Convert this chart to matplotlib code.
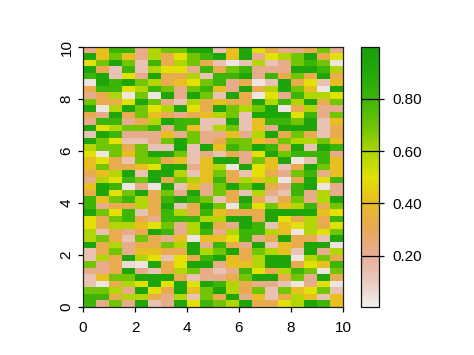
import numpy as np
import matplotlib
matplotlib.use("Agg")
import matplotlib.pyplot as plt
from matplotlib.colors import LinearSegmentedColormap

plt.rcParams['font.family'] = ['Liberation Sans', 'DejaVu Sans']

# cell values in hundredths, top row first
cell_rows = [
 [22,41,80,80,22,59,69,69,93,93,13,41,93,50,32,22,22,32,69,22],
 [93,41,69,41,22,59,32,50,69,80,93,41,93,22,50,59,69,93,32,50],
 [50,69,93,69,13,80,32,59,69,32,13,3,13,59,13,22,69,80,69,3],
 [93,32,13,80,13,59,50,50,22,80,32,69,80,22,22,22,93,93,80,59],
 [80,93,13,50,22,93,32,32,59,13,80,80,93,22,80,32,69,32,93,32],
 [3,93,80,93,69,59,32,41,50,69,80,22,32,3,13,93,32,50,13,41],
 [32,80,80,50,59,80,69,22,69,80,41,22,93,32,59,93,69,41,3,93],
 [22,32,59,3,69,3,93,22,93,69,13,93,32,3,50,22,80,59,59,50],
 [69,32,32,50,93,69,22,13,59,32,41,32,32,93,59,80,59,93,32,69],
 [93,3,59,93,69,50,59,93,50,32,93,69,59,69,93,3,32,59,22,22],
 [32,22,93,32,69,41,32,22,32,41,59,69,13,93,93,93,50,80,22,69],
 [22,80,80,22,32,59,93,80,80,13,13,93,13,41,80,80,69,93,13,41],
 [93,50,59,69,69,80,22,80,41,13,59,69,13,41,22,93,93,93,13,32],
 [13,93,80,22,22,22,41,22,69,22,22,41,22,59,93,32,69,32,13,32],
 [93,69,50,13,13,22,69,93,69,22,32,69,69,41,32,69,59,59,69,41],
 [59,69,69,32,69,13,13,93,13,93,41,80,69,93,80,32,93,13,93,80],
 [50,3,69,41,69,93,93,69,13,22,13,32,22,50,93,69,80,80,80,22],
 [41,50,32,13,69,69,32,41,13,41,93,93,22,69,41,93,3,13,80,41],
 [41,69,32,32,41,50,93,93,22,41,59,3,93,50,41,13,32,93,69,41],
 [32,41,59,93,13,93,93,59,13,41,69,32,13,50,32,22,69,80,22,41],
 [22,59,50,80,69,93,32,69,59,41,80,32,59,41,59,3,32,93,50,80],
 [41,93,80,3,22,3,93,13,41,22,69,93,69,93,32,22,80,93,3,22],
 [32,93,50,69,93,32,69,22,93,22,69,32,13,59,22,13,80,22,59,22],
 [80,41,69,80,59,32,80,93,80,69,13,32,93,32,13,32,69,22,59,93],
 [80,22,32,32,59,32,93,13,32,93,69,3,80,50,69,41,59,80,32,69],
 [93,69,50,80,13,32,80,59,32,80,41,32,32,32,93,93,93,93,41,50],
 [50,32,69,80,32,22,80,80,80,59,59,93,93,32,93,50,32,59,32,80],
 [50,32,59,59,41,50,69,22,59,93,32,22,93,80,13,41,50,59,32,50],
 [59,13,32,22,32,93,80,22,59,80,22,59,80,80,59,41,3,59,50,69],
 [59,69,32,13,69,32,22,41,3,41,41,50,80,22,32,93,32,32,13,93],
 [93,32,59,22,32,32,69,59,93,22,80,32,22,93,13,41,32,93,93,3],
 [13,32,69,22,41,41,32,32,93,59,69,93,32,69,59,41,13,93,22,59],
 [13,59,32,93,59,50,13,50,32,80,93,41,32,59,93,93,3,59,69,32],
 [69,22,32,6,3,93,32,50,93,93,22,41,41,59,93,93,32,50,41,80],
 [22,22,32,93,22,13,32,59,69,22,13,22,80,50,32,59,80,69,3,69],
 [13,41,69,69,93,93,93,32,13,22,22,32,69,93,93,32,69,22,93,32],
 [13,3,32,59,50,93,50,93,50,93,80,59,32,22,22,13,3,22,50,3],
 [69,69,59,22,93,50,32,93,41,69,93,59,32,69,13,69,41,50,69,13],
 [80,80,32,59,59,32,22,59,13,69,32,93,22,41,13,32,59,41,13,41],
 [80,22,69,22,93,13,22,93,50,80,69,59,93,32,32,50,59,93,80,41],
]
x_ticks = [0, 2, 4, 6, 8, 10]
y_ticks = [0, 2, 4, 6, 8, 10]
bar_ticks = [0.20, 0.40, 0.60, 0.80]
value_min = 0.002
value_max = 0.998

cmap = LinearSegmentedColormap.from_list("terrain_like", [
    (0.00, "#F0F0EE"), (0.10, "#E9CABF"), (0.20, "#E7AE94"), (0.30, "#E8A858"),
    (0.40, "#E8BC25"), (0.50, "#E2E005"), (0.60, "#ACD405"), (0.70, "#6EC406"),
    (0.80, "#3DB508"), (0.93, "#1EA60A"), (1.00, "#1A9F0C")], N=255)

W, H = 474, 355
fig = plt.figure(figsize=(W/100, H/100), dpi=100)

def box(x0, y0, x1, y1):
    return [x0/W, 1-y1/H, (x1-x0)/W, (y1-y0)/H]

ax = fig.add_axes(box(83, 47, 343, 307))
grid = np.array(cell_rows) / 100
im = ax.imshow(grid, cmap=cmap, vmin=value_min, vmax=value_max, extent=[0, 10, 0, 10],
               aspect='auto', interpolation='nearest')
ax.set_xticks(x_ticks)
ax.set_yticks(y_ticks)
ax.tick_params(axis='both', length=3.8, width=0.9, color='black', labelsize=11)
ax.tick_params(axis='x', pad=6.2)
ax.tick_params(axis='y', labelrotation=90, pad=3.0)
for t in ax.get_yticklabels():
    t.set_va('center')
for s in ax.spines.values():
    s.set_linewidth(0.9)
    s.set_color('#222222')

cax = fig.add_axes(box(361, 47.3, 379, 307.3))
cb = fig.colorbar(im, cax=cax)
cb.set_ticks(bar_ticks)
cb.set_ticklabels([f"{v:.2f}" for v in bar_ticks])
cax.tick_params(axis='y', length=3.4, width=0.9, labelsize=11, pad=6.2)
cb.outline.set_linewidth(0.9)
cb.outline.set_edgecolor('#111111')
for v in bar_ticks:
    cax.axhline(v, color='black', linewidth=0.9)

fig.savefig("out.png", dpi=100)
